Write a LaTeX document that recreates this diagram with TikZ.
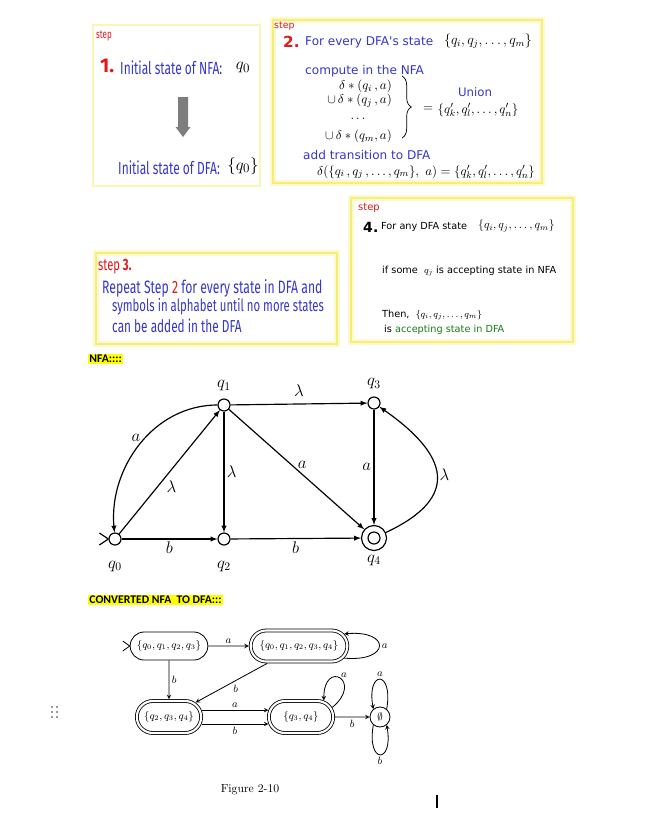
\documentclass[tikz,border=0pt]{standalone}
\usepackage{graphicx}
\usepackage{fontspec}
\setsansfont{Fira Sans}
\newfontfamily\calibrifont{Carlito}
\newfontfamily\widefont{DejaVu Sans}
\usetikzlibrary{shapes.misc,decorations.pathreplacing,positioning}

\definecolor{stepred}{RGB}{225,25,25}
\definecolor{stepblue}{RGB}{55,55,200}
\definecolor{stepgreen}{RGB}{25,125,25}
\definecolor{glowline}{RGB}{246,238,120}
\definecolor{glowhalo}{RGB}{252,249,205}
\definecolor{hilite}{RGB}{255,255,0}
\definecolor{arrowgray}{RGB}{125,125,125}
\definecolor{gripgray}{RGB}{120,120,120}

\newcommand{\pxsize}[1]{\fontsize{#1}{#1}\selectfont}
\newcommand{\narrowtxt}[1]{\scalebox{0.68}[1]{#1}}

\tikzset{
  glowbox/.style={draw=glowline, line width=2.2pt, preaction={draw=glowhalo, line width=5pt}},
  paleglow/.style={draw=glowhalo!70!glowline, line width=1.6pt},
  txt/.style={anchor=west, inner sep=0pt, font=\sffamily},
  state/.style={circle, draw, line width=1pt, minimum size=0.36cm, inner sep=0pt},
  accept/.style={state, minimum size=0.75cm, path picture={\draw[line width=1pt] (path picture bounding box.center) circle (0.18cm);}},
  nfaedge/.style={->, >=latex, line width=1pt},
  lbl/.style={font=\pxsize{14}, inner sep=2pt},
  dstate/.style={rounded rectangle, draw, line width=0.7pt, inner sep=1pt, font=\pxsize{9}},
  dacc/.style={dstate, double, double distance=1.8pt, outer sep=1.6pt},
  dfaedge/.style={->, >=stealth, line width=0.7pt},
  dlbl/.style={font=\pxsize{9}, inner sep=2pt},
  tag/.style={anchor=west, fill=hilite, inner sep=1pt, font=\calibrifont\bfseries\pxsize{10}},
}

\begin{document}
\begin{tikzpicture}[x=0.03cm,y=-0.03cm]
\useasboundingbox[fill=white] (0,0) rectangle (663,813);

\draw[paleglow] (93,25) rectangle (260,186);
\draw[glowbox] (273,20) rectangle (542,183);
\draw[glowbox] (351,198) rectangle (573,342);
\draw[glowbox] (96,253) rectangle (337,344);

\node[txt, text=stepred, font=\sffamily\pxsize{10}] (stepa) at (96,36) {\narrowtxt{step}};
\node[txt, text=stepred, font=\sffamily\bfseries\pxsize{17}] (numa) at (100,66) {1.};
\node[txt, text=stepblue, font=\sffamily\pxsize{15}] (nfainit) at (120,68) {\narrowtxt{Initial state of NFA:}};
\node[font=\pxsize{15}] (nfaq) at (243,68) {$q_0$};
\fill[arrowgray] (178,97) -- (188,97) -- (188,127) -- (190.5,127) -- (183,137) -- (175.5,127) -- (178,127) -- cycle;
\node[txt, text=stepblue, font=\sffamily\pxsize{15}] (dfainit) at (118,168) {\narrowtxt{Initial state of DFA:}};
\node[font=\pxsize{15}] (dfaq) at (243,166) {$\{q_0\}$};

\node[txt, text=stepred, font=\widefont\pxsize{8}] (stepb) at (274,26) {step};
\node[txt, text=stepred, font=\widefont\bfseries\pxsize{13}] (numb) at (283,42) {2.};
\node[txt, text=stepblue, font=\widefont\pxsize{10.3}] (everyb) at (305,42) {For every DFA's state};
\node[font=\pxsize{12}] (setb) at (488,41) {$\{q_i,q_j,\ldots,q_m\}$};
\node[txt, text=stepblue, font=\widefont\pxsize{10.3}] (computeb) at (305,71) {compute in the NFA};
\node[anchor=east, inner sep=0pt, font=\pxsize{11}] (dli) at (392,86) {$\delta\ast(q_i\,,a)$};
\node[anchor=east, inner sep=0pt, font=\pxsize{11}] (dlj) at (392,101) {$\cup\,\delta\ast(q_j\,,a)$};
\node[font=\pxsize{11}] (dldots) at (358,119) {$\ldots$};
\node[anchor=east, inner sep=0pt, font=\pxsize{11}] (dlm) at (392,136) {$\cup\,\delta\ast(q_m,a)$};
\draw[line width=0.6pt, decorate, decoration={brace, amplitude=8pt}] (402,76) -- (402,138);
\node[inner sep=0pt, font=\pxsize{11}] (eqb) at (428,109) {$=$};
\node[inner sep=0pt, text=stepblue, font=\widefont\pxsize{10}] (unionb) at (475,92) {Union};
\node[inner sep=0pt, font=\pxsize{11}] (resb) at (478,110) {$\{q_k',q_l',\ldots,q_n'\}$};
\node[txt, text=stepblue, font=\widefont\pxsize{10.3}] (addb) at (303,155) {add transition to DFA};
\node[txt, font=\pxsize{11}] (transb) at (317,172) {$\delta(\{q_i\,,q_j\,,\ldots,q_m\},\ a)=\{q_k',q_l',\ldots,q_n'\}$};

\node[txt, text=stepred, font=\widefont\pxsize{8.5}] (stepd) at (358,208) {step};
\node[txt, font=\widefont\bfseries\pxsize{12}] (numd) at (363,227) {4.};
\node[txt, font=\widefont\pxsize{8.3}] (anyd) at (381,227) {For any DFA state};
\node[txt, font=\pxsize{10}] (setd) at (478,226) {$\{q_i,q_j,\ldots,q_m\}$};
\node[txt, font=\widefont\pxsize{8.3}] (ifd) at (382,271) {if some\ \ $q_j$ is accepting state in NFA};
\node[txt, font=\widefont\pxsize{8.3}] (thend) at (382,315) {Then,\ \ $\{q_i,q_j,\ldots,q_m\}$};
\node[txt, font=\widefont\pxsize{8.3}] (isd) at (384,330) {is \textcolor{stepgreen}{accepting state in DFA}};

\node[txt, text=stepred, font=\sffamily\pxsize{14}] (stepc) at (98,267) {\narrowtxt{step \textbf{3.}}};
\node[txt, text=stepblue, font=\sffamily\pxsize{15.3}] (repeatc) at (102,288) {\narrowtxt{Repeat Step \textcolor{stepred}{2} for every state in DFA and}};
\node[txt, text=stepblue, font=\sffamily\pxsize{14.3}] (symbolc) at (112,307) {\narrowtxt{symbols in alphabet until no more states}};
\node[txt, text=stepblue, font=\sffamily\pxsize{14.8}] (addc) at (112,326) {\narrowtxt{can be added in the DFA}};

\node[tag] (nfatag) at (88,359) {NFA::::};
\node[tag] (dfatag) at (88,600) {CONVERTED NFA\ \ TO DFA:::};

\node[state, label={[lbl, label distance=11pt]below:$q_0$}] (q0) at (115,539) {};
\node[state, label={[lbl, label distance=4pt]above:$q_1$}] (q1) at (224,405) {};
\node[state, label={[lbl, label distance=11pt]below:$q_2$}] (q2) at (224,539) {};
\node[state, label={[lbl, label distance=4pt]above:$q_3$}] (q3) at (374,403) {};
\node[accept, label={[lbl, label distance=1pt]below:$q_4$}] (q4) at (374,538) {};

\draw[line width=1pt] (q0.west) -- ++(-9,-6) (q0.west) -- ++(-9,6);
\draw[nfaedge] (q0) -- node[lbl, pos=0.45, below right=-1pt] {$\lambda$} (q1);
\draw[nfaedge] (q1) to[out=180, in=95] node[lbl, pos=0.45, left=2pt] {$a$} (q0);
\draw[nfaedge] (q1) -- node[lbl, above=4pt] {$\lambda$} (q3);
\draw[nfaedge] (q1) -- node[lbl, right] {$\lambda$} (q2);
\draw[nfaedge] (q1) -- node[lbl, above right=-2pt] {$a$} (q4);
\draw[nfaedge] (q3) -- node[lbl, left] {$a$} (q4);
\draw[nfaedge] (q4) to[out=25, in=-35, looseness=1.7] node[lbl, right] {$\lambda$} (q3);
\draw[nfaedge] (q0) -- node[lbl, below] {$b$} (q2);
\draw[nfaedge] (q2) -- node[lbl, below] {$b$} (q4);

\node[dstate, minimum width=2.4cm, minimum height=0.84cm] (A) at (169,646) {$\{q_0,q_1,q_2,q_3\}$};
\node[dacc, minimum width=2.97cm, minimum height=0.93cm] (B) at (299,646) {$\{q_0,q_1,q_2,q_3,q_4\}$};
\node[dacc, minimum width=2.0cm, minimum height=0.96cm] (C) at (169,717) {$\{q_2,q_3,q_4\}$};
\node[dacc, minimum width=2.0cm, minimum height=0.96cm] (D) at (301,717) {$\{q_3,q_4\}$};
\node[circle, draw, line width=0.7pt, minimum size=0.6cm, inner sep=0pt, font=\pxsize{9}] (E) at (380,717) {$\emptyset$};

\draw[line width=0.7pt] (A.west) -- ++(-7,-5) (A.west) -- ++(-7,5);
\draw[dfaedge] (A) -- node[dlbl, above] {$a$} (B);
\draw[dfaedge] (A) -- node[dlbl, right] {$b$} (C);
\draw[dfaedge] (B) -- node[dlbl, below right=-1pt] {$b$} (C);
\draw[dfaedge] (C.12) -- node[dlbl, above] {$a$} (D.168);
\draw[dfaedge] (C.-12) -- node[dlbl, below] {$b$} (D.-168);
\draw[dfaedge] (D) -- node[dlbl, below] {$b$} (E);
\draw[dfaedge] (B.-15) to[out=-5, in=5, min distance=1.4cm] node[dlbl, right] {$a$} (B.15);
\draw[dfaedge] (D.17) to[out=40, in=90, min distance=1.25cm] node[dlbl, above right=-2pt] {$a$} (D.36);
\draw[dfaedge] (E.50) to[out=80, in=100, min distance=1.2cm] node[dlbl, above] {$a$} (E.130);
\draw[dfaedge] (E.230) to[out=260, in=280, min distance=1.2cm] node[dlbl, below] {$b$} (E.310);

\foreach \gx in {52,57} \foreach \gy in {707,712,717} \fill[gripgray] (\gx,\gy) circle (0.9pt);
\draw[line width=1.4pt] (437,795) -- (437,808);
\node[font=\pxsize{10}] (caption) at (250,790) {Figure 2-10};

\end{tikzpicture}
\end{document}
